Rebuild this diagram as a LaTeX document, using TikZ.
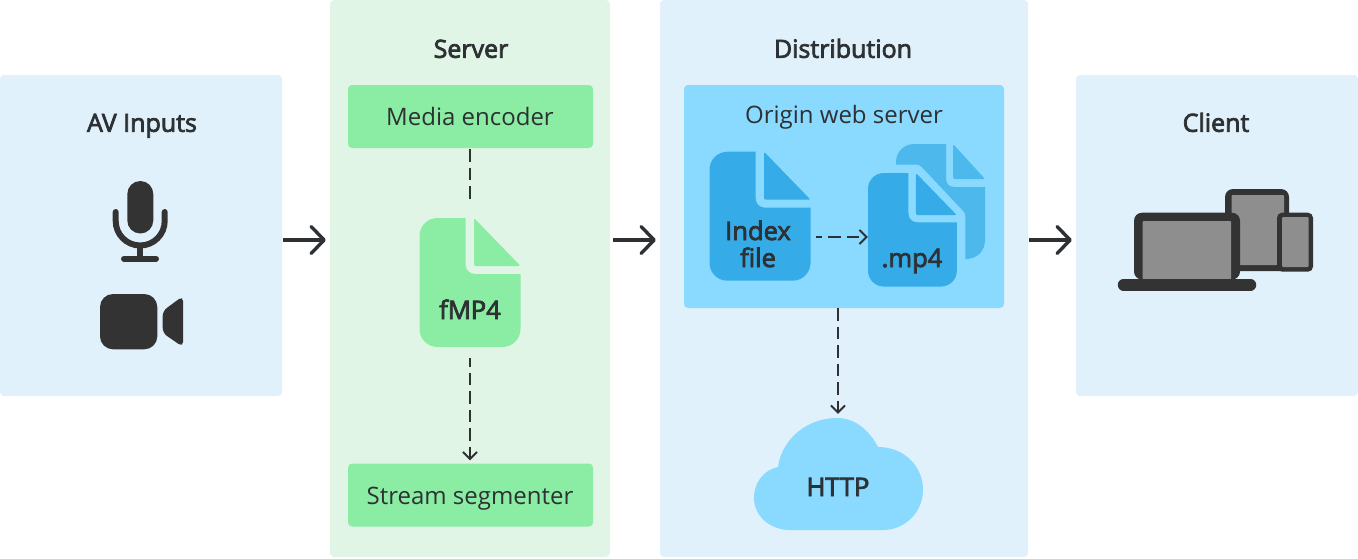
\documentclass[tikz,border=0pt]{standalone}
\usepackage{fontspec}
\setmainfont{Open Sans}
\newfontfamily\semifont[FakeBold=3]{Open Sans}
\usetikzlibrary{arrows.meta,positioning}

\definecolor{panelblue}{HTML}{E0F1FB}
\definecolor{panelgreen}{HTML}{E1F5E7}
\definecolor{boxgreen}{HTML}{8AEDA3}
\definecolor{boxblue}{HTML}{8AD9FF}
\definecolor{fileblue}{HTML}{35ACE8}
\definecolor{backblue}{HTML}{4CB8EC}
\definecolor{inkdark}{HTML}{2E3133}
\definecolor{icondark}{HTML}{333333}
\definecolor{screengrey}{HTML}{8E8E8E}

\begin{document}
\begin{tikzpicture}[x=1pt,y=-1pt]
      \tikzset{
	  panel/.style={rounded corners=4pt, inner sep=0pt},
	  colbox/.style={fill=boxgreen, rounded corners=4pt, inner sep=0pt, minimum width=245pt, minimum height=63pt},
	  title/.style={text=inkdark, font=\fontsize{25}{26}\semifont, text height=17.5pt, text depth=0pt, inner sep=0pt},
	  plain/.style={text=inkdark, font=\fontsize{24}{26}\selectfont, text height=17pt, text depth=0pt, inner sep=0pt},
	  filetext/.style={text=inkdark, font=\fontsize{25.5}{26}\semifont, text height=18pt, text depth=0pt, inner sep=0pt},
	  filebox/.style={inner sep=0pt, minimum width=101pt, minimum height=129pt},
	  flow/.style={draw=inkdark, line width=3.4pt, -{Straight Barb[length=13pt,width=27pt,round]}},
	  dashline/.style={draw=inkdark, line width=1.9pt, dash pattern=on 12.5pt off 6pt},
	  dashtip/.style={dashline, -{Straight Barb[length=7pt,width=14pt]}},
	  device/.style={fill=icondark, rounded corners=#1},
	  screen/.style={fill=screengrey, rounded corners=1pt},
	  filedoc/.pic={
	      \path[pic actions] (0,18) .. controls (0,8) and (8,0) .. (18,0) -- (46,0) -- (46,46)
		  .. controls (46,52) and (50,56) .. (56,56) -- (101,56) -- (101,111)
		  .. controls (101,121) and (93,129) .. (83,129) -- (18,129)
		  .. controls (8,129) and (0,121) .. (0,111) -- cycle;
	      \path[pic actions, rounded corners=2pt] (54.5,0) -- (101,48) -- (54.5,48) -- cycle;
	  },
	  filecut/.pic={
	      \draw[draw=boxblue, fill=boxblue, line width=17pt, line join=round] (0,18) .. controls (0,8) and (8,0) .. (18,0)
		  -- (54,0) -- (101,50) -- (101,111)
		  .. controls (101,121) and (93,129) .. (83,129) -- (18,129)
		  .. controls (8,129) and (0,121) .. (0,111) -- cycle;
	  },
      }
      \useasboundingbox (0,0) rectangle (1358,558);
      \coordinate (row) at (0,240);

      % four columns
      \node (av) at (141,235.5) [panel, fill=panelblue, minimum width=282pt, minimum height=321pt] {};
      \node (server) at (470,278.5) [panel, fill=panelgreen, minimum width=280pt, minimum height=557pt] {};
      \node (dist) at (844,278.5) [panel, fill=panelblue, minimum width=368pt, minimum height=557pt] {};
      \node (client) at (1217,235.5) [panel, fill=panelblue, minimum width=282pt, minimum height=321pt] {};

      \node (avtitle) at (142,123) [title] {AV Inputs};
      \node (servertitle) at (471,49) [title] {Server};
      \node (disttitle) at (843,49) [title] {Distribution};
      \node (clienttitle) at (1216,123) [title] {Client};

      % microphone and camera
      \fill[icondark, rounded corners=13pt] (127.3,181) rectangle (153.3,233.5);
      \draw[icondark, line width=6pt, line cap=round] (115.7,212) -- (115.7,221) arc (180:360:24.5 and -24.5) -- (164.7,212);
      \draw[icondark, line width=6pt] (140.2,245) -- (140.2,258.7);
      \draw[icondark, line width=6pt, line cap=round] (124,258.7) -- (156,258.7);
      \fill[icondark, rounded corners=13pt] (100,294) rectangle (157.3,349.3);
      \fill[icondark, rounded corners=5pt] (162.7,311) -- (162.7,333) -- (183,347) -- (183,296) -- cycle;

      % server column
      \node (encoder) at (470.5,116.5) [colbox] {};
      \node (encodertext) at (470,117) [plain] {Media encoder};
      \node (segmenter) at (470.5,495) [colbox] {};
      \node (segmentertext) at (470,496) [plain] {Stream segmenter};
      \pic[fill=boxgreen] at (419.5,218) {filedoc};
      \node (fmp) at (470,282.5) [filebox] {};
      \node (fmptext) at (470,310) [filetext] {fMP4};

      % distribution column
      \node (origin) at (844,196.5) [colbox, fill=boxblue, minimum width=320pt, minimum height=223pt] {};
      \node (origintext) at (844,115) [plain] {Origin web server};
      \pic[fill=fileblue] at (709.5,151.7) {filedoc};
      \node (index) at (760,216.2) [filebox] {};
      \node (indextext) at (758,231) [filetext] {Index};
      \node (indexfile) at (758,258) [filetext] {file};
      \fill[backblue] (896,162) .. controls (896,152) and (904,144) .. (914,144) -- (946,144) -- (946,178)
	  .. controls (946,184) and (949,187) .. (955,187) -- (985,187) -- (985,240)
	  .. controls (985,251) and (977,259) .. (966,259) -- (896,259) -- cycle;
      \fill[backblue, rounded corners=2pt] (953,144) -- (985,179) -- (953,179) -- cycle;
      \pic[scale=0.88] at (868,173) {filecut};
      \pic[fill=fileblue, scale=0.88] at (868,173) {filedoc};
      \node (mp) at (912.5,237) [filebox, minimum width=89pt, minimum height=102pt] {};
      \node (mptext) at (912,258) [filetext] {.mp4};

      \fill[boxblue] (790,530) .. controls (770,530) and (754,516) .. (754,498)
	  .. controls (754,482) and (764,470) .. (778,467)
	  .. controls (782,438) and (808,418) .. (837,418)
	  .. controls (855,418) and (869,430) .. (878,447)
	  .. controls (904,447) and (923,466) .. (923,490)
	  .. controls (923,512) and (905,530) .. (883,530) -- cycle;
      \node (http) at (838,474) [filebox, minimum width=169pt, minimum height=112pt] {};
      \node (httptext) at (838,487) [filetext] {HTTP};

      % laptop, tablet and phone
      \fill[device=8pt] (1225,189) rectangle (1289,271);
      \fill[screen] (1231.7,195) rectangle (1284,265);
      \fill[device=8pt] (1134,279.5) |- (1240,212.7) -- (1240,279.5) -- cycle;
      \fill[screen] (1142.7,221) rectangle (1231,279.5);
      \draw[icondark, line width=11.5pt, line cap=round] (1123.5,284.8) -- (1250.5,284.8);
      \fill[device=5pt] (1277,212.7) rectangle (1313,271.7);
      \fill[screen] (1282,217) rectangle (1308.7,267);

      % connectors
      \draw[flow, shorten <=1pt, shorten >=4pt] (av.east |- row) -- (server.west |- row);
      \draw[flow, shorten <=3pt, shorten >=4pt] (server.east |- row) -- (dist.west |- row);
      \draw[flow, shorten <=1pt, shorten >=4pt] (dist.east |- row) -- (client.west |- row);
      \draw[dashline, shorten <=1pt, shorten >=18pt] (encoder.south -| fmp.north) -- (fmp.north);
      \draw[dashtip, dash phase=4pt, shorten <=11pt, shorten >=3pt] (fmp.south) -- (segmenter.north -| fmp.south);
      \draw[dashtip, dash phase=6pt, shorten <=5pt] (index.east |- mp.west) -- (mp.west);
      \draw[dashtip, shorten >=4pt] (origin.south -| http.north) -- (http.north);
\end{tikzpicture}
\end{document}
